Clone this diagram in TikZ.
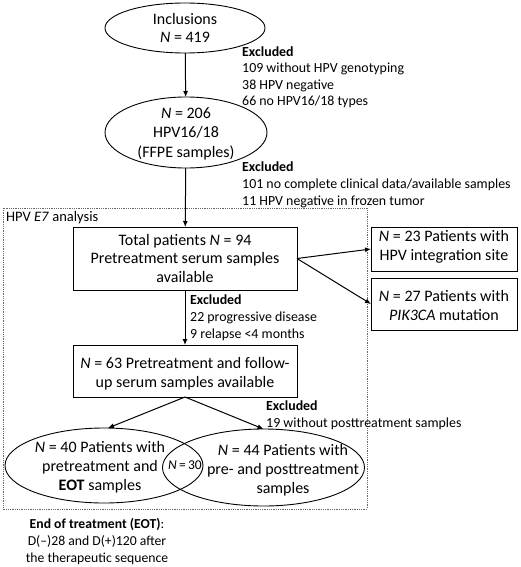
\documentclass[tikz,border=0pt]{standalone}
\usepackage{fontspec}
\setmainfont{Carlito}
\usetikzlibrary{shapes.geometric,arrows.meta}
\tikzset{
  shp/.style={draw, line width=0.9pt, inner sep=0pt, outer sep=0pt},
  ell/.style={shp, ellipse},
  rbox/.style={shp, rectangle},
  txt/.style={align=center, anchor=base, inner sep=0pt, font=\fontsize{16}{18.8}\selectfont},
  excl/.style={align=left, anchor=base west, inner sep=0pt, font=\fontsize{13.9}{16.6}\selectfont},
  arr/.style={-{Latex[length=6pt,width=5pt]}, line width=1pt},
  frame/.style={draw=black!60, densely dotted, line width=0.8pt}
}
\begin{document}
\begin{tikzpicture}[x=1pt,y=-1pt]
\useasboundingbox (0,0) rectangle (520,567);
% frame
\draw[frame] (3,208) rectangle (367,509);
\node[anchor=base west, inner sep=0pt, font=\fontsize{14.5}{16}\selectfont] (e7lab) at (6,221) {HPV \textit{E7} analysis};
% shapes
\node[ell, minimum width=160, minimum height=50] (inc) at (185,28) {};
\node[ell, minimum width=162, minimum height=71] (n206) at (186,132.5) {};
\node[rbox, minimum width=224, minimum height=63] (b94) at (185,258.5) {};
\node[rbox, minimum width=146, minimum height=44] (b23) at (444,249) {};
\node[rbox, minimum width=146, minimum height=52] (b27) at (444,304) {};
\node[rbox, minimum width=224, minimum height=52] (b63) at (185,371) {};
\node[ell, minimum width=198, minimum height=75] (e40) at (104,465.5) {};
\node[ell, minimum width=202, minimum height=77] (e44) at (263.5,467.5) {};
% texts (anchored at the baseline of the last line)
\node[txt, font=\fontsize{16}{18}\selectfont] (tinc) at (185,43) {Inclusions\\\textit{N} = 419};
\node[txt, font=\fontsize{16}{19}\selectfont] (t206) at (186,157) {\textit{N} = 206\\HPV16/18\\(FFPE samples)};
\node[txt, font=\fontsize{16}{18.5}\selectfont] (t94) at (185,282) {Total patients \textit{N} = 94\\Pretreatment serum samples\\available};
\node[txt, font=\fontsize{16}{18.5}\selectfont] (t23) at (444,260) {\textit{N} = 23 Patients with\\HPV integration site};
\node[txt, font=\fontsize{16}{19}\selectfont] (t27) at (444,320) {\textit{N} = 27 Patients with\\\textit{PIK3CA} mutation};
\node[txt, font=\fontsize{16}{19}\selectfont] (t63) at (185,387) {\textit{N} = 63 Pretreatment and follow-\\up serum samples available};
\node[txt, font=\fontsize{16}{19}\selectfont] (t40) at (100,490) {\textit{N} = 40 Patients with\\pretreatment and\\\textbf{EOT} samples};
\node[txt, font=\fontsize{16}{19}\selectfont] (t44) at (283,493) {\textit{N} = 44 Patients with\\pre- and posttreatment\\samples};
\node[txt, font=\fontsize{13.5}{15}\selectfont] (t30) at (185,469) {\textit{N}\,=\,30};
% excluded
\node[excl] (x1) at (242,106) {\textbf{Excluded}\\109 without HPV genotyping\\38 HPV negative\\66 no HPV16/18 types};
\node[excl] (x2) at (242,205) {\textbf{Excluded}\\101 no complete clinical data/available samples\\11 HPV negative in frozen tumor};
\node[excl, font=\fontsize{13.9}{17}\selectfont] (x3) at (190,338) {\textbf{Excluded}\\22 progressive disease\\9 relapse <4 months};
\node[excl, font=\fontsize{13.9}{17}\selectfont] (x4) at (266,427) {\textbf{Excluded}\\19 without posttreatment samples};
% bottom note
\node[txt, font=\fontsize{13.7}{17}\selectfont] (eot) at (97,562) {\textbf{End of treatment (EOT)}:\\D(–)28 and D(+)120 after\\the therapeutic sequence};
% arrows
\draw[arr] (inc) -- (n206);
\draw[arr] (n206) -- (b94);
\draw[arr] (b94) -- (b63);
\draw[arr] (b94.east) -- (b23.west);
\draw[arr] (b94.east) -- (b27.west);
\draw[arr] (b63.south) -- ([xshift=4pt]e40.north);
\draw[arr] (b63.south) -- (e44.north);
\end{tikzpicture}
\end{document}
